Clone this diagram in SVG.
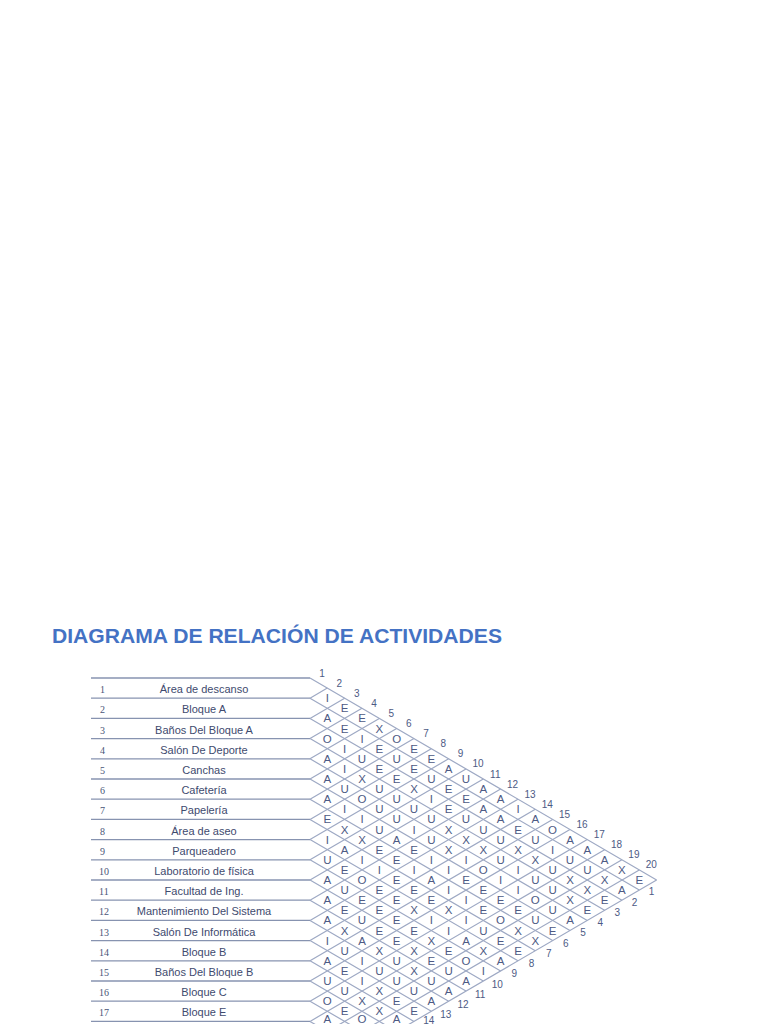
<svg xmlns="http://www.w3.org/2000/svg" width="768" height="1024" viewBox="0 0 768 1024">
<style>
.bg{fill:#ffffff}
.title{font-family:"Liberation Sans",Arial,sans-serif;font-weight:bold;font-size:20.8px;fill:#4472c4}
.rl{stroke:#8793b0;stroke-width:1.3;fill:none}
.gl{stroke:#9ea9c4;stroke-width:1.2;fill:none}
.lab{font-family:"Liberation Sans",Arial,sans-serif;font-size:11px;fill:#3e4a6e;text-anchor:middle}
.num{font-family:"Liberation Serif",serif;font-size:10px;fill:#4a5577}
.n{font-family:"Liberation Sans",Arial,sans-serif;font-size:10px;fill:#4d5a84;text-anchor:middle}
.c{font-family:"Liberation Sans",Arial,sans-serif;font-size:11.5px;fill:#4d5a84;text-anchor:middle}
</style>
<rect class="bg" x="0" y="0" width="768" height="1024"/>
<g id="title"><text class="title" x="52" y="643" textLength="450" lengthAdjust="spacingAndGlyphs">DIAGRAMA DE RELACIÓN DE ACTIVIDADES</text></g>

<g id="connectors">
<g id="row-lines">
<line class="rl" x1="91" y1="678" x2="310" y2="678"/>
<line class="rl" x1="91" y1="698.2" x2="310" y2="698.2"/>
<line class="rl" x1="91" y1="718.4" x2="310" y2="718.4"/>
<line class="rl" x1="91" y1="738.6" x2="310" y2="738.6"/>
<line class="rl" x1="91" y1="758.8" x2="310" y2="758.8"/>
<line class="rl" x1="91" y1="779" x2="310" y2="779"/>
<line class="rl" x1="91" y1="799.2" x2="310" y2="799.2"/>
<line class="rl" x1="91" y1="819.4" x2="310" y2="819.4"/>
<line class="rl" x1="91" y1="839.6" x2="310" y2="839.6"/>
<line class="rl" x1="91" y1="859.8" x2="310" y2="859.8"/>
<line class="rl" x1="91" y1="880" x2="310" y2="880"/>
<line class="rl" x1="91" y1="900.2" x2="310" y2="900.2"/>
<line class="rl" x1="91" y1="920.4" x2="310" y2="920.4"/>
<line class="rl" x1="91" y1="940.6" x2="310" y2="940.6"/>
<line class="rl" x1="91" y1="960.8" x2="310" y2="960.8"/>
<line class="rl" x1="91" y1="981" x2="310" y2="981"/>
<line class="rl" x1="91" y1="1001.2" x2="310" y2="1001.2"/>
<line class="rl" x1="91" y1="1021.4" x2="310" y2="1021.4"/>
</g>
<g id="grid" transform="translate(310,678) scale(17.33,10.1)">
<path class="gl" vector-effect="non-scaling-stroke" d="M0 0L20 20M0 2L19 21M0 4L18 22M0 6L17 23M0 8L16 24M0 10L15 25M0 12L14 26M0 14L13 27M0 16L12 28M0 18L11 29M0 20L10 30M0 22L9 31M0 24L8 32M0 26L7 33M0 28L6 34M0 30L5 35M0 32L4 36M0 34L3 37M0 36L2 38M0 38L1 39"/>
<path class="gl" vector-effect="non-scaling-stroke" d="M0 2L1 1M0 4L2 2M0 6L3 3M0 8L4 4M0 10L5 5M0 12L6 6M0 14L7 7M0 16L8 8M0 18L9 9M0 20L10 10M0 22L11 11M0 24L12 12M0 26L13 13M0 28L14 14M0 30L15 15M0 32L16 16M0 34L17 17M0 36L18 18M0 38L19 19M0 40L20 20"/>
</g>
</g>

<g id="row-1"><text class="num" x="100" y="693.1">1</text><text class="lab" x="204" y="693.1">Área de descanso</text></g>
<g id="row-2"><text class="num" x="100" y="713.3">2</text><text class="lab" x="204" y="713.3">Bloque A</text></g>
<g id="row-3"><text class="num" x="100" y="733.5">3</text><text class="lab" x="204" y="733.5">Baños Del Bloque A</text></g>
<g id="row-4"><text class="num" x="100" y="753.7">4</text><text class="lab" x="204" y="753.7">Salón De Deporte</text></g>
<g id="row-5"><text class="num" x="100" y="773.9">5</text><text class="lab" x="204" y="773.9">Canchas</text></g>
<g id="row-6"><text class="num" x="100" y="794.1">6</text><text class="lab" x="204" y="794.1">Cafetería</text></g>
<g id="row-7"><text class="num" x="100" y="814.3">7</text><text class="lab" x="204" y="814.3">Papelería</text></g>
<g id="row-8"><text class="num" x="100" y="834.5">8</text><text class="lab" x="204" y="834.5">Área de aseo</text></g>
<g id="row-9"><text class="num" x="100" y="854.7">9</text><text class="lab" x="204" y="854.7">Parqueadero</text></g>
<g id="row-10"><text class="num" x="99" y="874.9">10</text><text class="lab" x="204" y="874.9">Laboratorio de física</text></g>
<g id="row-11"><text class="num" x="99" y="895.1">11</text><text class="lab" x="204" y="895.1">Facultad de Ing.</text></g>
<g id="row-12"><text class="num" x="99" y="915.3">12</text><text class="lab" x="204" y="915.3">Mantenimiento Del Sistema</text></g>
<g id="row-13"><text class="num" x="99" y="935.5">13</text><text class="lab" x="204" y="935.5">Salón De Informática</text></g>
<g id="row-14"><text class="num" x="99" y="955.7">14</text><text class="lab" x="204" y="955.7">Bloque B</text></g>
<g id="row-15"><text class="num" x="99" y="975.9">15</text><text class="lab" x="204" y="975.9">Baños Del Bloque B</text></g>
<g id="row-16"><text class="num" x="99" y="996.1">16</text><text class="lab" x="204" y="996.1">Bloque C</text></g>
<g id="row-17"><text class="num" x="99" y="1016.3">17</text><text class="lab" x="204" y="1016.3">Bloque E</text></g>

<g id="top-numbers">
<text class="n" x="322" y="676.5">1</text>
<text class="n" x="339.3" y="686.6">2</text>
<text class="n" x="356.7" y="696.7">3</text>
<text class="n" x="374" y="706.8">4</text>
<text class="n" x="391.3" y="716.9">5</text>
<text class="n" x="408.7" y="727">6</text>
<text class="n" x="426" y="737.1">7</text>
<text class="n" x="443.3" y="747.2">8</text>
<text class="n" x="460.6" y="757.3">9</text>
<text class="n" x="478" y="767.4">10</text>
<text class="n" x="495.3" y="777.5">11</text>
<text class="n" x="512.6" y="787.6">12</text>
<text class="n" x="530" y="797.7">13</text>
<text class="n" x="547.3" y="807.8">14</text>
<text class="n" x="564.6" y="817.9">15</text>
<text class="n" x="582" y="828">16</text>
<text class="n" x="599.3" y="838.1">17</text>
<text class="n" x="616.6" y="848.2">18</text>
<text class="n" x="633.9" y="858.3">19</text>
<text class="n" x="651.3" y="868.4">20</text>
</g>
<g id="bottom-numbers">
<text class="n" x="651.6" y="895.2">1</text>
<text class="n" x="634.5" y="905.5">2</text>
<text class="n" x="617.3" y="915.7">3</text>
<text class="n" x="600.2" y="926">4</text>
<text class="n" x="583" y="936.2">5</text>
<text class="n" x="565.9" y="946.5">6</text>
<text class="n" x="548.7" y="956.7">7</text>
<text class="n" x="531.6" y="967">8</text>
<text class="n" x="514.4" y="977.2">9</text>
<text class="n" x="497.3" y="987.5">10</text>
<text class="n" x="480.1" y="997.7">11</text>
<text class="n" x="463" y="1008">12</text>
<text class="n" x="445.8" y="1018.2">13</text>
<text class="n" x="428.7" y="1023.5">14</text>
</g>

<g id="relations">
<text class="c" x="327.3" y="702.2">I</text>
<text class="c" x="344.7" y="712.3">E</text>
<text class="c" x="327.3" y="722.4">A</text><text class="c" x="362" y="722.4">E</text>
<text class="c" x="344.7" y="732.5">E</text><text class="c" x="379.3" y="732.5">X</text>
<text class="c" x="327.3" y="742.6">O</text><text class="c" x="362" y="742.6">I</text><text class="c" x="396.7" y="742.6">O</text>
<text class="c" x="344.7" y="752.7">I</text><text class="c" x="379.3" y="752.7">E</text><text class="c" x="414" y="752.7">E</text>
<text class="c" x="327.3" y="762.8">A</text><text class="c" x="362" y="762.8">U</text><text class="c" x="396.7" y="762.8">U</text><text class="c" x="431.3" y="762.8">E</text>
<text class="c" x="344.7" y="772.9">I</text><text class="c" x="379.3" y="772.9">E</text><text class="c" x="414" y="772.9">E</text><text class="c" x="448.6" y="772.9">A</text>
<text class="c" x="327.3" y="783">A</text><text class="c" x="362" y="783">X</text><text class="c" x="396.7" y="783">E</text><text class="c" x="431.3" y="783">U</text><text class="c" x="466" y="783">U</text>
<text class="c" x="344.7" y="793.1">U</text><text class="c" x="379.3" y="793.1">U</text><text class="c" x="414" y="793.1">X</text><text class="c" x="448.6" y="793.1">E</text><text class="c" x="483.3" y="793.1">A</text>
<text class="c" x="327.3" y="803.2">A</text><text class="c" x="362" y="803.2">O</text><text class="c" x="396.7" y="803.2">U</text><text class="c" x="431.3" y="803.2">I</text><text class="c" x="466" y="803.2">E</text><text class="c" x="500.6" y="803.2">A</text>
<text class="c" x="344.7" y="813.3">I</text><text class="c" x="379.3" y="813.3">U</text><text class="c" x="414" y="813.3">U</text><text class="c" x="448.6" y="813.3">E</text><text class="c" x="483.3" y="813.3">A</text><text class="c" x="518" y="813.3">I</text>
<text class="c" x="327.3" y="823.4">E</text><text class="c" x="362" y="823.4">I</text><text class="c" x="396.7" y="823.4">U</text><text class="c" x="431.3" y="823.4">U</text><text class="c" x="466" y="823.4">U</text><text class="c" x="500.6" y="823.4">A</text><text class="c" x="535.3" y="823.4">A</text>
<text class="c" x="344.7" y="833.5">X</text><text class="c" x="379.3" y="833.5">U</text><text class="c" x="414" y="833.5">I</text><text class="c" x="448.6" y="833.5">X</text><text class="c" x="483.3" y="833.5">U</text><text class="c" x="518" y="833.5">E</text><text class="c" x="552.6" y="833.5">O</text>
<text class="c" x="327.3" y="843.6">I</text><text class="c" x="362" y="843.6">X</text><text class="c" x="396.7" y="843.6">A</text><text class="c" x="431.3" y="843.6">U</text><text class="c" x="466" y="843.6">X</text><text class="c" x="500.6" y="843.6">U</text><text class="c" x="535.3" y="843.6">U</text><text class="c" x="570" y="843.6">A</text>
<text class="c" x="344.7" y="853.7">A</text><text class="c" x="379.3" y="853.7">E</text><text class="c" x="414" y="853.7">E</text><text class="c" x="448.6" y="853.7">X</text><text class="c" x="483.3" y="853.7">X</text><text class="c" x="518" y="853.7">X</text><text class="c" x="552.6" y="853.7">I</text><text class="c" x="587.3" y="853.7">A</text>
<text class="c" x="327.3" y="863.8">U</text><text class="c" x="362" y="863.8">I</text><text class="c" x="396.7" y="863.8">E</text><text class="c" x="431.3" y="863.8">I</text><text class="c" x="466" y="863.8">I</text><text class="c" x="500.6" y="863.8">U</text><text class="c" x="535.3" y="863.8">X</text><text class="c" x="570" y="863.8">U</text><text class="c" x="604.6" y="863.8">A</text>
<text class="c" x="344.7" y="873.9">E</text><text class="c" x="379.3" y="873.9">I</text><text class="c" x="414" y="873.9">I</text><text class="c" x="448.6" y="873.9">I</text><text class="c" x="483.3" y="873.9">O</text><text class="c" x="518" y="873.9">I</text><text class="c" x="552.6" y="873.9">U</text><text class="c" x="587.3" y="873.9">U</text><text class="c" x="621.9" y="873.9">X</text>
<text class="c" x="327.3" y="884">A</text><text class="c" x="362" y="884">O</text><text class="c" x="396.7" y="884">E</text><text class="c" x="431.3" y="884">A</text><text class="c" x="466" y="884">E</text><text class="c" x="500.6" y="884">I</text><text class="c" x="535.3" y="884">U</text><text class="c" x="570" y="884">X</text><text class="c" x="604.6" y="884">X</text><text class="c" x="639.3" y="884">E</text>
<text class="c" x="344.7" y="894.1">U</text><text class="c" x="379.3" y="894.1">E</text><text class="c" x="414" y="894.1">E</text><text class="c" x="448.6" y="894.1">I</text><text class="c" x="483.3" y="894.1">E</text><text class="c" x="518" y="894.1">I</text><text class="c" x="552.6" y="894.1">U</text><text class="c" x="587.3" y="894.1">X</text><text class="c" x="621.9" y="894.1">A</text>
<text class="c" x="327.3" y="904.2">A</text><text class="c" x="362" y="904.2">E</text><text class="c" x="396.7" y="904.2">E</text><text class="c" x="431.3" y="904.2">E</text><text class="c" x="466" y="904.2">I</text><text class="c" x="500.6" y="904.2">E</text><text class="c" x="535.3" y="904.2">O</text><text class="c" x="570" y="904.2">X</text><text class="c" x="604.6" y="904.2">E</text>
<text class="c" x="344.7" y="914.3">E</text><text class="c" x="379.3" y="914.3">E</text><text class="c" x="414" y="914.3">X</text><text class="c" x="448.6" y="914.3">X</text><text class="c" x="483.3" y="914.3">E</text><text class="c" x="518" y="914.3">E</text><text class="c" x="552.6" y="914.3">U</text><text class="c" x="587.3" y="914.3">E</text>
<text class="c" x="327.3" y="924.4">A</text><text class="c" x="362" y="924.4">U</text><text class="c" x="396.7" y="924.4">E</text><text class="c" x="431.3" y="924.4">I</text><text class="c" x="466" y="924.4">I</text><text class="c" x="500.6" y="924.4">O</text><text class="c" x="535.3" y="924.4">U</text><text class="c" x="570" y="924.4">A</text>
<text class="c" x="344.7" y="934.5">X</text><text class="c" x="379.3" y="934.5">E</text><text class="c" x="414" y="934.5">E</text><text class="c" x="448.6" y="934.5">I</text><text class="c" x="483.3" y="934.5">U</text><text class="c" x="518" y="934.5">X</text><text class="c" x="552.6" y="934.5">E</text>
<text class="c" x="327.3" y="944.6">I</text><text class="c" x="362" y="944.6">A</text><text class="c" x="396.7" y="944.6">E</text><text class="c" x="431.3" y="944.6">X</text><text class="c" x="466" y="944.6">A</text><text class="c" x="500.6" y="944.6">E</text><text class="c" x="535.3" y="944.6">X</text>
<text class="c" x="344.7" y="954.7">U</text><text class="c" x="379.3" y="954.7">X</text><text class="c" x="414" y="954.7">X</text><text class="c" x="448.6" y="954.7">E</text><text class="c" x="483.3" y="954.7">X</text><text class="c" x="518" y="954.7">E</text>
<text class="c" x="327.3" y="964.8">A</text><text class="c" x="362" y="964.8">I</text><text class="c" x="396.7" y="964.8">U</text><text class="c" x="431.3" y="964.8">E</text><text class="c" x="466" y="964.8">O</text><text class="c" x="500.6" y="964.8">A</text>
<text class="c" x="344.7" y="974.9">E</text><text class="c" x="379.3" y="974.9">U</text><text class="c" x="414" y="974.9">X</text><text class="c" x="448.6" y="974.9">U</text><text class="c" x="483.3" y="974.9">I</text>
<text class="c" x="327.3" y="985">U</text><text class="c" x="362" y="985">I</text><text class="c" x="396.7" y="985">U</text><text class="c" x="431.3" y="985">U</text><text class="c" x="466" y="985">A</text>
<text class="c" x="344.7" y="995.1">U</text><text class="c" x="379.3" y="995.1">X</text><text class="c" x="414" y="995.1">U</text><text class="c" x="448.6" y="995.1">A</text>
<text class="c" x="327.3" y="1005.2">O</text><text class="c" x="362" y="1005.2">X</text><text class="c" x="396.7" y="1005.2">E</text><text class="c" x="431.3" y="1005.2">A</text>
<text class="c" x="344.7" y="1015.3">E</text><text class="c" x="379.3" y="1015.3">X</text><text class="c" x="414" y="1015.3">E</text>
<text class="c" x="327.3" y="1023.2">A</text><text class="c" x="362" y="1023.2">O</text><text class="c" x="396.7" y="1023.2">A</text>
</g>
</svg>
